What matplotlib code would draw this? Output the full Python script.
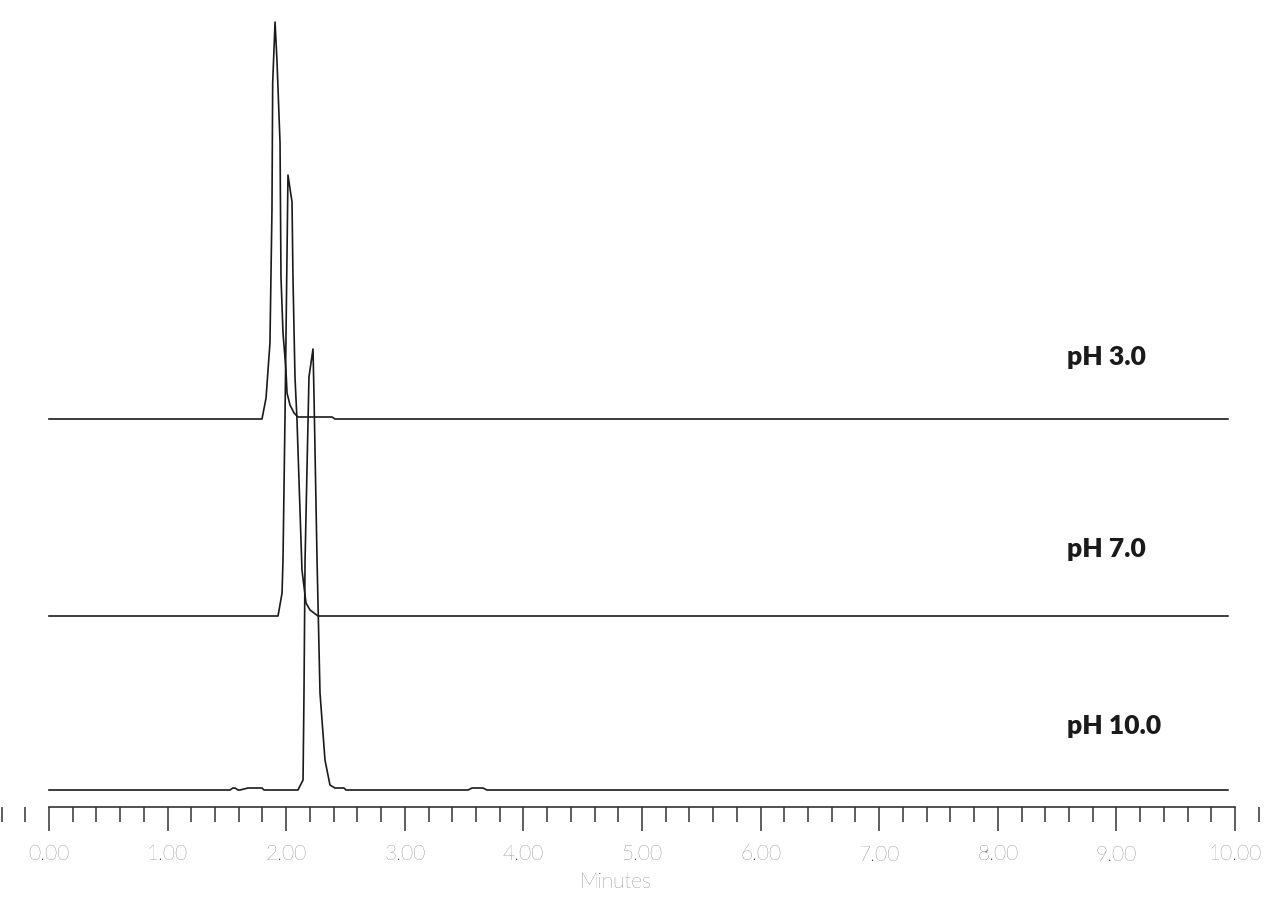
import matplotlib.pyplot as plt
import numpy as np
from matplotlib.ticker import MultipleLocator

# chromatogram traces (minutes, detector signal in arbitrary units)
ph3_t = [0.0, 1.796, 1.830, 1.863, 1.880, 1.886, 1.906, 1.922, 1.948, 1.956, 1.973,
         1.998, 2.007, 2.032, 2.066, 2.099, 2.386, 2.411, 9.94]
ph3_y = [0, 0, 21, 76, 209, 336, 397, 359, 276, 142, 86, 49, 26, 14, 6, 2, 2, 0, 0]

ph7_t = [0.0, 1.931, 1.965, 1.973, 1.990, 2.015, 2.049, 2.057, 2.074, 2.091, 2.133,
         2.167, 2.201, 2.268, 9.94]
ph7_y = [0, 0, 23, 56, 200, 441, 414, 339, 239, 196, 46, 13, 6, 0, 0]

ph10_t = [0.0, 1.526, 1.551, 1.568, 1.594, 1.610, 1.678, 1.695, 1.796, 1.813, 2.099,
          2.142, 2.150, 2.159, 2.192, 2.226, 2.234, 2.260, 2.285, 2.327, 2.369, 2.411,
          2.487, 2.504, 3.533, 3.567, 3.659, 3.693, 9.94]
ph10_y = [0, 0, 2, 2, 0, 0, 2, 2, 2, 0, 0, 10, 97, 230, 413, 441, 397, 230, 97, 30,
          5, 2, 2, 0, 0, 2, 2, 0, 0]

labels = ['pH 3.0', 'pH 7.0', 'pH 10.0']
offsets = [499, 302, 128]
label_y = [561, 369, 192]

fig = plt.figure(figsize=(12.8, 9.18), dpi=100)
ax = fig.add_axes([0, 0, 1, 1])
ax.set_xlim(-49 / 118.6, (1280 - 49) / 118.6)
ax.set_ylim(0, 918)

for t, y, off, lab, ly in zip([ph3_t, ph7_t, ph10_t], [ph3_y, ph7_y, ph10_y],
                              offsets, labels, label_y):
    ax.plot(t, np.array(y) + off, color='#1a1a1a', lw=1.2)
    ax.text(8.58, ly, lab, fontsize=19, fontweight='heavy', family='Lato',
            color='#1a1a1a', va='center', ha='left')

for s in ['top', 'right', 'left']:
    ax.spines[s].set_visible(False)
ax.spines['bottom'].set_position(('data', 111))
ax.spines['bottom'].set_bounds(0, 10)
ax.spines['bottom'].set_color('#333333')
ax.spines['bottom'].set_linewidth(1.2)
ax.yaxis.set_visible(False)

ax.set_xticks(np.arange(0, 11, 1))
ax.set_xticklabels(['%.2f' % v for v in range(11)])
ax.xaxis.set_minor_locator(MultipleLocator(0.2))
ax.tick_params(axis='x', which='major', direction='out', length=17, width=1.1,
               color='#333333', labelsize=15, labelcolor='#333333', pad=10)
ax.tick_params(axis='x', which='minor', direction='out', length=11, width=1.1,
               color='#333333')
for lbl in ax.get_xticklabels():
    lbl.set_family('Lato')
    lbl.set_fontweight('light')

ax.text(4.78, 918 - 882, 'Minutes', fontsize=15, family='Lato', fontweight='light',
        color='#333333', ha='center', va='center')

plt.savefig('out.png', dpi=100)
